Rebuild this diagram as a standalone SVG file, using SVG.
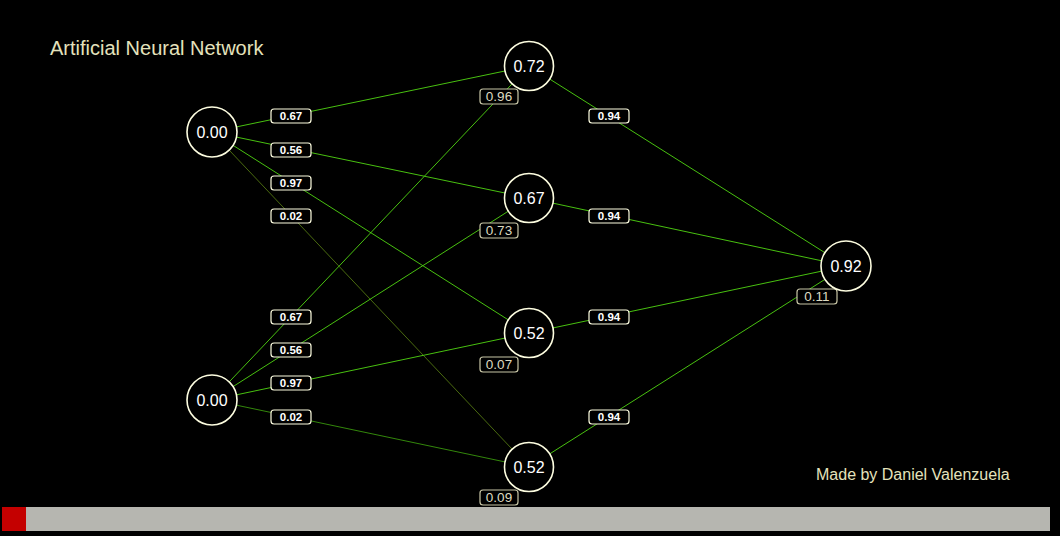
<svg xmlns="http://www.w3.org/2000/svg" width="1060" height="536" viewBox="0 0 1060 536">
<style>
.node circle{fill:#000;stroke:#fdfde0;stroke-width:1.6}
.node text{fill:#fff;font-family:"Liberation Sans",Arial,sans-serif;font-size:16px;text-anchor:middle;dominant-baseline:central}
.w rect{fill:#000;stroke:#fdfde0;stroke-width:1.2}
.w text{fill:#fff;font-family:"Liberation Sans",Arial,sans-serif;font-size:11.5px;font-weight:bold;text-anchor:middle;dominant-baseline:central}
.b rect{fill:#000;stroke:#c8c6a6;stroke-width:1.2}
.b text{fill:#dcdac0;font-family:"Liberation Sans",Arial,sans-serif;font-size:13.5px;text-anchor:middle;dominant-baseline:central}
.edge{stroke:#48c010;stroke-width:1;fill:none}
.weak{stroke:#4a6a10}
.title{fill:#e4e2bc;font-family:"Liberation Sans",Arial,sans-serif}
</style>
<rect width="1060" height="536" fill="#000"/>
<text class="title" x="50" y="55" font-size="20">Artificial Neural Network</text>
<text class="title" x="816" y="480" font-size="16">Made by Daniel Valenzuela</text>
<g id="connectors">
<line class="edge" x1="212" y1="132" x2="529" y2="66"/>
<line class="edge" x1="212" y1="132" x2="529" y2="198"/>
<line class="edge" x1="212" y1="132" x2="529" y2="333"/>
<line class="edge weak" x1="212" y1="132" x2="529" y2="467"/>
<line class="edge" x1="212" y1="400" x2="529" y2="66"/>
<line class="edge" x1="212" y1="400" x2="529" y2="198"/>
<line class="edge" x1="212" y1="400" x2="529" y2="333"/>
<line class="edge" stroke-opacity="0.7" x1="212" y1="400" x2="529" y2="467"/>
<line class="edge" x1="529" y1="66" x2="846" y2="266"/>
<line class="edge" x1="529" y1="198" x2="846" y2="266"/>
<line class="edge" x1="529" y1="333" x2="846" y2="266"/>
<line class="edge" x1="529" y1="467" x2="846" y2="266"/>
</g>
<g id="weights">
<g class="w"><rect x="271" y="109" width="40" height="14" rx="3"/><text x="291" y="116">0.67</text></g>
<g class="w"><rect x="271" y="143" width="40" height="14" rx="3"/><text x="291" y="150">0.56</text></g>
<g class="w"><rect x="271" y="176" width="40" height="14" rx="3"/><text x="291" y="183">0.97</text></g>
<g class="w"><rect x="271" y="209" width="40" height="14" rx="3"/><text x="291" y="216">0.02</text></g>
<g class="w"><rect x="271" y="310" width="40" height="14" rx="3"/><text x="291" y="317">0.67</text></g>
<g class="w"><rect x="271" y="343" width="40" height="14" rx="3"/><text x="291" y="350">0.56</text></g>
<g class="w"><rect x="271" y="376" width="40" height="14" rx="3"/><text x="291" y="383">0.97</text></g>
<g class="w"><rect x="271" y="410" width="40" height="14" rx="3"/><text x="291" y="417">0.02</text></g>
<g class="w"><rect x="589" y="109" width="40" height="14" rx="3"/><text x="609" y="116">0.94</text></g>
<g class="w"><rect x="589" y="209" width="40" height="14" rx="3"/><text x="609" y="216">0.94</text></g>
<g class="w"><rect x="589" y="310" width="40" height="14" rx="3"/><text x="609" y="317">0.94</text></g>
<g class="w"><rect x="589" y="410" width="40" height="14" rx="3"/><text x="609" y="417">0.94</text></g>
</g>
<g id="biases">
<g class="b"><rect x="480" y="89" width="38" height="15" rx="3"/><text x="499" y="96.5">0.96</text></g>
<g class="b"><rect x="480" y="223" width="38" height="15" rx="3"/><text x="499" y="230.5">0.73</text></g>
<g class="b"><rect x="480" y="357" width="38" height="15" rx="3"/><text x="499" y="364.5">0.07</text></g>
<g class="b"><rect x="480" y="490" width="38" height="15" rx="3"/><text x="499" y="497.5">0.09</text></g>
<g class="b"><rect x="797" y="289" width="40" height="15" rx="3"/><text x="817" y="296.5">0.11</text></g>
</g>
<g id="in1" class="node"><circle cx="212" cy="132" r="25"/><text x="212" y="132">0.00</text></g>
<g id="in2" class="node"><circle cx="212" cy="400" r="25"/><text x="212" y="400">0.00</text></g>
<g id="h1" class="node"><circle cx="529" cy="66" r="24.5"/><text x="529" y="66">0.72</text></g>
<g id="h2" class="node"><circle cx="529" cy="198" r="24.5"/><text x="529" y="198">0.67</text></g>
<g id="h3" class="node"><circle cx="529" cy="333" r="24.5"/><text x="529" y="333">0.52</text></g>
<g id="h4" class="node"><circle cx="529" cy="467" r="24.5"/><text x="529" y="467">0.52</text></g>
<g id="out" class="node"><circle cx="846" cy="266" r="25"/><text x="846" y="266">0.92</text></g>
<rect x="2" y="507" width="1048" height="24" fill="#b6b6b0"/>
<rect x="2" y="507" width="24" height="24" fill="#c40000"/>
</svg>
